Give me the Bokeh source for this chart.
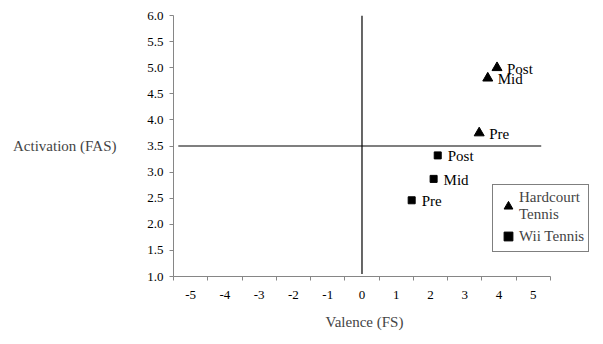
from bokeh.plotting import figure
from bokeh.models import Range1d, FixedTicker, Title, Legend, LegendItem, ColumnDataSource, NumeralTickFormatter
from bokeh.core.properties import value
from bokeh.embed import file_html
from bokeh.resources import INLINE

# ---- data ----
phases = ["Pre", "Mid", "Post"]
hard_valence = [3.42, 3.67, 3.94]
hard_activation = [3.75, 4.80, 5.00]
wii_valence = [1.45, 2.09, 2.21]
wii_activation = [2.46, 2.87, 3.32]

x_ticks = [-5, -4, -3, -2, -1, 0, 1, 2, 3, 4, 5]
x_bounds = [-5.5, -4.5, -3.5, -2.5, -1.5, -0.5, 0.5, 1.5, 2.5, 3.5, 4.5, 5.5]
y_ticks = [1.0, 1.5, 2.0, 2.5, 3.0, 3.5, 4.0, 4.5, 5.0, 5.5, 6.0]

mid_valence = 0
mid_activation = 3.5
hline_x = [-5.36, 5.23]
vline_y = [1.05, 6.0]

FONT = "'Liberation Serif', 'Times New Roman', serif"

p = figure(width=603, height=344, output_backend="svg", toolbar_location=None,
           x_range=Range1d(-5.5, 7.047), y_range=Range1d(1.0, 6.0),
           min_border_left=173, min_border_right=0, min_border_top=15, min_border_bottom=68)
p.outline_line_color = None
p.xgrid.visible = False
p.ygrid.visible = False
p.background_fill_color = "white"
p.border_fill_color = "white"

# axes
for ax in (p.xaxis, p.yaxis):
    ax.axis_line_color = "#868686"
    ax.major_tick_line_color = "#868686"
    ax.minor_tick_line_color = "#868686"
    ax.major_label_text_font = FONT
    ax.major_label_text_font_size = "13px"
    ax.major_label_text_color = "black"

p.xaxis.bounds = (x_bounds[0], x_bounds[-1])
p.xaxis.ticker = FixedTicker(ticks=x_ticks, minor_ticks=x_bounds)
p.xaxis.major_label_overrides = {float(t): str(t) for t in x_ticks}
p.xaxis.major_tick_out = 0
p.xaxis.major_tick_in = 0
p.xaxis.minor_tick_out = 4
p.xaxis.minor_tick_in = 0
p.xaxis.major_label_standoff = 10

p.yaxis.ticker = FixedTicker(ticks=y_ticks, minor_ticks=[])
p.yaxis.formatter = NumeralTickFormatter(format="0.0")
p.yaxis.major_tick_out = 4
p.yaxis.major_tick_in = 0
p.yaxis.major_label_standoff = 6
p.yaxis.axis_label = "Activation  (FAS)"
p.yaxis.axis_label_orientation = "horizontal"
p.yaxis.axis_label_text_font = FONT
p.yaxis.axis_label_text_font_size = "15px"
p.yaxis.axis_label_text_font_style = "normal"
p.yaxis.axis_label_standoff = 24

# quadrant lines
p.segment(x0=[hline_x[0]], y0=[mid_activation], x1=[hline_x[1]], y1=[mid_activation],
          line_color="black", line_width=1.2)
p.segment(x0=[mid_valence], y0=[vline_y[0]], x1=[mid_valence], y1=[vline_y[1]],
          line_color="black", line_width=1.2)

hsrc = ColumnDataSource(dict(x=hard_valence, y=hard_activation, t=phases))
wsrc = ColumnDataSource(dict(x=wii_valence, y=wii_activation, t=phases))

r_h = p.scatter("x", "y", source=hsrc, marker="triangle", size=10, color="black")
r_w = p.scatter("x", "y", source=wsrc, marker="square", size=7, color="black")

p.text("x", "y", text="t", source=hsrc, x_offset=10, y_offset=1, text_baseline="middle",
       text_font=value(FONT), text_font_size="15px", text_color="black")
p.text("x", "y", text="t", source=wsrc, x_offset=10, y_offset=1, text_baseline="middle",
       text_font=value(FONT), text_font_size="15px", text_color="black")

# x axis title
p.add_layout(Title(text="Valence  (FS)", align="left", offset=152, standoff=20,
                   text_font=FONT, text_font_size="15px", text_font_style="normal"), "below")

legend = Legend(items=[LegendItem(label="Hardcourt\nTennis", renderers=[r_h]),
                       LegendItem(label="Wii Tennis", renderers=[r_w])],
                location=(319, 24), orientation="vertical",
                label_text_font=FONT, label_text_font_size="15px",
                border_line_color="black", border_line_width=1,
                background_fill_color="white", background_fill_alpha=1,
                glyph_width=22, glyph_height=22, label_standoff=0,
                padding=4, spacing=2, margin=0, label_height=14)
p.add_layout(legend, "center")

open("out.html", "w").write(file_html(p, INLINE))
